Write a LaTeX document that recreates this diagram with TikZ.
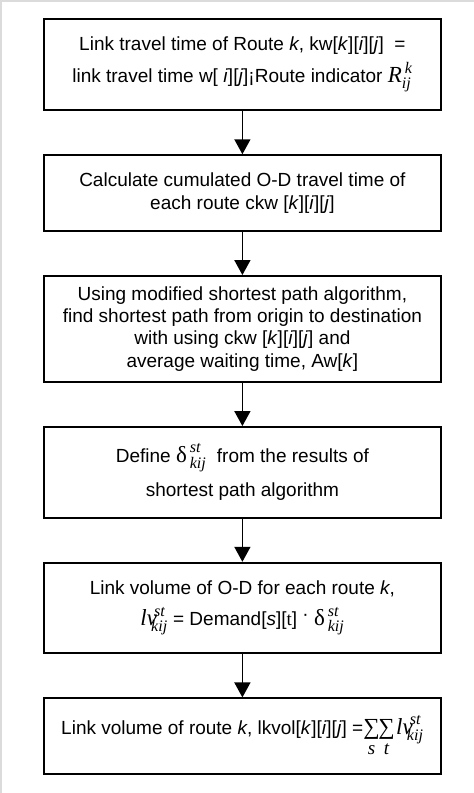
\documentclass[tikz,border=0pt]{standalone}
\usepackage{fontspec}
\usepackage{amsmath}
\setmainfont{Liberation Sans}
\newfontfamily\tms{Liberation Serif}
\usetikzlibrary{arrows.meta}
\newcommand\myit[1]{\text{\tms\itshape #1}}
\newcommand\mydelta{\text{\tms δ}}
\newcommand\mysum{\mathop{\text{\tms ∑}}\limits}
\newcommand\mymath[1]{{\fontsize{23}{23}\selectfont$#1$}}
\newcommand\limtext[1]{\text{\fontsize{19}{19}\selectfont\tms\itshape #1}}
\tikzset{
  box/.style={draw=black, line width=1.8pt, minimum width=396.7pt, align=center,
    inner sep=0pt, font=\fontsize{19}{22.4}\selectfont},
  flow/.style={line width=1.6pt, -{Triangle[length=15pt,width=16pt]}},
  edge/.style={draw=black!14, line width=2pt}
}
\begin{document}
\begin{tikzpicture}[x=1pt,y=-1pt]
\useasboundingbox (0,0) rectangle (474,793);
\draw[edge] (0,0.8) -- (474,0.8);
\draw[edge] (1,0) -- (1,793);
\node[box, minimum height=91pt] (b1) at (242.4,64.5)
  {Link travel time of Route \textit{k}, kw[\textit{k}][\textit{i}][\textit{j}]\ \ =\\[7pt]
   link travel time w[ \textit{i}][\textit{j}]¡Route indicator \mymath{\myit{R}^{\,\myit{k}}_{\myit{ij}}}};
\node[box, minimum height=75.7pt] (b2) at (242.4,193)
  {Calculate cumulated O-D travel time of\\
   each route ckw [\textit{k}][\textit{i}][\textit{j}]};
\node[box, minimum height=105.7pt] (b3) at (242.4,328.8)
  {Using modified shortest path algorithm,\\
   find shortest path from origin to destination\\
   with using ckw [\textit{k}][\textit{i}][\textit{j}] and\\
   average waiting time, Aw[\textit{k}]};
\node[box, minimum height=90.7pt] (b4) at (242.4,472.3)
  {Define \mymath{\mydelta^{\,\myit{st}}_{\,\myit{kij}}}\ \ from the results of\\[10pt]
   shortest path algorithm};
\node[box, minimum height=90.6pt] (b5) at (242.4,608)
  {Link volume of O-D for each route \textit{k},\\[9pt]
   \mymath{\myit{lv}^{\!\myit{st}}_{\!\!\myit{kij}}} = Demand[\textit{s}][{\tms t}] \raisebox{5pt}{·} \mymath{\mydelta^{\,\myit{st}}_{\,\myit{kij}}}};
\node[box, minimum height=76pt] (b6) at (242.4,736.3)
  {Link volume of route \textit{k}, lkvol[\textit{k}][\textit{i}][\textit{j}] =\mymath{\mysum_{\limtext{s}}\mkern-4mu\mysum_{\limtext{t}}\mkern-2mu\myit{lv}^{\!\myit{st}}_{\!\!\myit{kij}}}};
\draw[flow] (b1) -- (b2);
\draw[flow] (b2) -- (b3);
\draw[flow] (b3) -- (b4);
\draw[flow] (b4) -- (b5);
\draw[flow] (b5) -- (b6);
\end{tikzpicture}
\end{document}
